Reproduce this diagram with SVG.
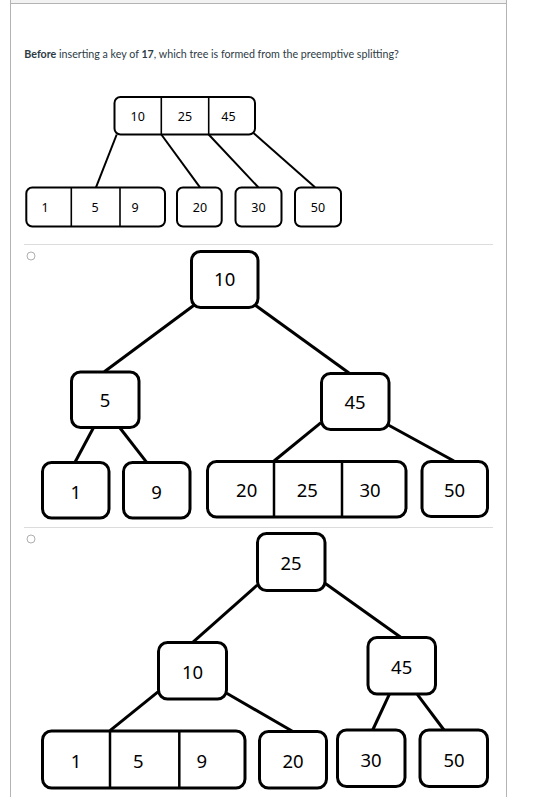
<svg xmlns="http://www.w3.org/2000/svg" width="558" height="797" viewBox="0 0 558 797">
<style>
.frame{fill:none;stroke:#b4b4b4;stroke-width:1}
.sep{stroke:#dcdcdc;stroke-width:1}
.q{font-family:Lato,"Liberation Sans",sans-serif;font-size:10.7px;fill:#2d3b45}
.b{font-weight:bold}
.n1{fill:#fff;stroke:#000;stroke-width:2}
.d1{stroke:#000;stroke-width:1.6}
.t1{font-family:"Noto Sans","Open Sans",sans-serif;font-size:12.5px;fill:#000;text-anchor:middle}
.n2{fill:#fff;stroke:#000;stroke-width:3}
.d2{stroke:#000;stroke-width:2.5}
.t2{font-family:"Noto Sans","Open Sans",sans-serif;font-size:18.5px;fill:#000;text-anchor:middle}
.e1{stroke:#000;stroke-width:2;fill:none}
.e2{stroke:#000;stroke-width:3;fill:none}
.radio{fill:#fff;stroke:#9a9a9a;stroke-width:0.8}
</style>
<rect x="0" y="0" width="558" height="797" fill="#fff"/>
<rect x="10.5" y="0" width="496" height="3" fill="#f2f2f2"/>
<line class="frame" x1="10.5" y1="3.5" x2="506.5" y2="3.5"/>
<line class="frame" x1="10.5" y1="0" x2="10.5" y2="797"/>
<line class="frame" x1="506.5" y1="0" x2="506.5" y2="797"/>
<text class="q" x="24.3" y="58.3"><tspan class="b">Before</tspan> inserting a key of <tspan class="b">17</tspan>, which tree is formed from the preemptive splitting?</text>
<line class="sep" x1="24" y1="244.5" x2="493" y2="244.5"/>
<line class="sep" x1="24" y1="527.5" x2="493" y2="527.5"/>
<circle class="radio" cx="31" cy="256" r="4"/>
<circle class="radio" cx="31" cy="539" r="4"/>

<g id="connectors">
<line class="e1" x1="116.7" y1="134.5" x2="96" y2="187.3"/>
<line class="e1" x1="161.3" y1="134.5" x2="200" y2="187.3"/>
<line class="e1" x1="208.7" y1="134.5" x2="258.3" y2="187.3"/>
<line class="e1" x1="253.5" y1="133" x2="315" y2="187.3"/>

<line class="e2" x1="194.3" y1="305" x2="104.3" y2="371.7"/>
<line class="e2" x1="255" y1="305" x2="349" y2="373"/>
<line class="e2" x1="93.3" y1="428" x2="75" y2="462.3"/>
<line class="e2" x1="120" y1="428" x2="146.7" y2="462.3"/>
<line class="e2" x1="321" y1="422.7" x2="274" y2="461"/>
<line class="e2" x1="388.3" y1="425" x2="454" y2="461"/>

<line class="e2" x1="257.3" y1="585" x2="192.7" y2="642.3"/>
<line class="e2" x1="325" y1="583.3" x2="400.7" y2="637.3"/>
<line class="e2" x1="158.3" y1="691.7" x2="110" y2="730.7"/>
<line class="e2" x1="226.7" y1="693.3" x2="293.3" y2="731.7"/>
<line class="e2" x1="389.3" y1="694.3" x2="372.7" y2="730"/>
<line class="e2" x1="417.3" y1="694.3" x2="444" y2="730"/>
</g>

<g id="t1-root">
<rect class="n1" x="114.5" y="97" width="140.5" height="37.5" rx="6"/>
<line class="d1" x1="161.3" y1="97" x2="161.3" y2="134.5"/>
<line class="d1" x1="208.7" y1="97" x2="208.7" y2="134.5"/>
<text class="t1" x="137.7" y="120.7">10</text>
<text class="t1" x="185" y="120.7">25</text>
<text class="t1" x="228.5" y="120.7">45</text>
</g>
<g id="t1-leaf-1-5-9">
<rect class="n1" x="26.3" y="187.5" width="138.7" height="39" rx="6"/>
<line class="d1" x1="71.3" y1="187.5" x2="71.3" y2="226.5"/>
<line class="d1" x1="120" y1="187.5" x2="120" y2="226.5"/>
<text class="t1" x="45" y="211.7">1</text>
<text class="t1" x="95" y="211.7">5</text>
<text class="t1" x="135" y="211.7">9</text>
</g>
<g id="t1-leaf-20">
<rect class="n1" x="177" y="187.5" width="44.7" height="39" rx="6"/>
<text class="t1" x="200" y="211.7">20</text>
</g>
<g id="t1-leaf-30">
<rect class="n1" x="235.5" y="187.5" width="46" height="39" rx="6"/>
<text class="t1" x="258.5" y="211.7">30</text>
</g>
<g id="t1-leaf-50">
<rect class="n1" x="295" y="187.5" width="46" height="39" rx="6"/>
<text class="t1" x="318" y="211.7">50</text>
</g>

<g id="t2-10">
<rect class="n2" x="191.5" y="251.5" width="66.5" height="56" rx="9"/>
<text class="t2" x="224.7" y="286">10</text>
</g>
<g id="t2-5">
<rect class="n2" x="71.5" y="372" width="67.5" height="55.5" rx="9"/>
<text class="t2" x="105" y="407">5</text>
</g>
<g id="t2-45">
<rect class="n2" x="321.5" y="373.5" width="67.5" height="56" rx="9"/>
<text class="t2" x="355" y="408.5">45</text>
</g>
<g id="t2-1">
<rect class="n2" x="42.5" y="462.5" width="66.5" height="55.5" rx="9"/>
<text class="t2" x="75.7" y="498.5">1</text>
</g>
<g id="t2-9">
<rect class="n2" x="123.5" y="462.5" width="66.5" height="55.5" rx="9"/>
<text class="t2" x="156.5" y="498.5">9</text>
</g>
<g id="t2-20-25-30">
<rect class="n2" x="207.5" y="461.5" width="198.5" height="55.5" rx="9"/>
<line class="d2" x1="274" y1="461.5" x2="274" y2="517"/>
<line class="d2" x1="342" y1="461.5" x2="342" y2="517"/>
<text class="t2" x="246.7" y="496.5">20</text>
<text class="t2" x="307.3" y="496.5">25</text>
<text class="t2" x="370" y="496.5">30</text>
</g>
<g id="t2-50">
<rect class="n2" x="422" y="461.5" width="65.5" height="55" rx="9"/>
<text class="t2" x="454.5" y="496.5">50</text>
</g>

<g id="t3-25">
<rect class="n2" x="257.5" y="533.5" width="67.5" height="57" rx="9"/>
<text class="t2" x="291" y="569.5">25</text>
</g>
<g id="t3-10">
<rect class="n2" x="158.5" y="642.5" width="68" height="56.5" rx="9"/>
<text class="t2" x="192.5" y="678.5">10</text>
</g>
<g id="t3-45">
<rect class="n2" x="368" y="637.5" width="67.5" height="56.5" rx="9"/>
<text class="t2" x="401.7" y="673.5">45</text>
</g>
<g id="t3-1-5-9">
<rect class="n2" x="42.5" y="731" width="202.5" height="57" rx="9"/>
<line class="d2" x1="110" y1="731" x2="110" y2="788"/>
<line class="d2" x1="179.3" y1="731" x2="179.3" y2="788"/>
<text class="t2" x="76" y="767.5">1</text>
<text class="t2" x="138.3" y="767.5">5</text>
<text class="t2" x="201.7" y="767.5">9</text>
</g>
<g id="t3-20">
<rect class="n2" x="259.5" y="731.5" width="67" height="56.5" rx="9"/>
<text class="t2" x="293" y="767.5">20</text>
</g>
<g id="t3-30">
<rect class="n2" x="337.5" y="730" width="67.5" height="56.5" rx="9"/>
<text class="t2" x="371" y="766.5">30</text>
</g>
<g id="t3-50">
<rect class="n2" x="420" y="730" width="67.5" height="56.5" rx="9"/>
<text class="t2" x="454" y="766.5">50</text>
</g>
</svg>
